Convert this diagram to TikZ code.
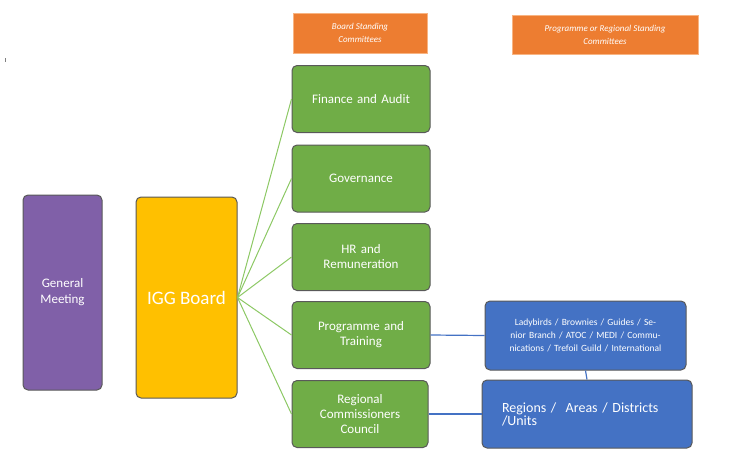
\documentclass[tikz,border=0pt]{standalone}
\usepackage{fontspec}
\setmainfont{Carlito}
\begin{document}
\begin{tikzpicture}[x=1pt,y=-1pt,
 box/.style={draw=gray!70!black,line width=1pt,rounded corners=5pt,text=white,align=center,inner sep=2pt},
 gbox/.style={box,fill=green!45!black!40!olive!0,fill={rgb,255:red,112;green,173;blue,71},minimum width=138pt,minimum height=67pt,text width=125pt,font=\fontsize{13}{15}\selectfont},
 bbox/.style={box,fill={rgb,255:red,68;green,114;blue,196}},
 obox/.style={fill={rgb,255:red,237;green,125;blue,49},draw={rgb,255:red,248;green,180;blue,130},text=white,align=center,font=\fontsize{9}{13}\selectfont\itshape},
 gl/.style={draw={rgb,255:red,140;green,200;blue,100},line width=1pt},
 bl/.style={draw={rgb,255:red,68;green,114;blue,196},line width=1.2pt}]
\useasboundingbox (0,0) rectangle (752,469);
\node[obox,minimum width=134pt,minimum height=40pt] (o1) at (360,33) {Board Standing\\Committees};
\node[obox,minimum width=186pt,minimum height=39pt] (o2) at (605,34.5) {Programme  or Regional Standing\\Committees};
\node[box,fill={rgb,255:red,128;green,96;blue,168},minimum width=79pt,minimum height=195pt,font=\fontsize{13}{16}\selectfont] (gm) at (62.5,292.5) {General\\Meeting};
\node[box,fill={rgb,255:red,255;green,192;blue,0},minimum width=101pt,minimum height=201pt,font=\fontsize{19}{22}\selectfont] (igg) at (186.5,297.5) {IGG Board};
\node[gbox] (fa) at (361,99) {Finance and Audit};
\node[gbox] (gov) at (361,178.5) {Governance};
\node[gbox] (hr) at (361,257) {HR and\\Remuneration};
\node[gbox] (pt) at (361,335) {Programme and\\Training};
\node[gbox,minimum width=136pt] (rc) at (360,414) {Regional\\Commissioners\\Council};
\node[bbox,minimum width=201pt,minimum height=69pt,text width=196pt,font=\fontsize{9.5}{13}\selectfont] (b1) at (585.5,335.5) {Ladybirds / Brownies / Guides / Senior Branch / ATOC / MEDI~/ Communications / Trefoil Guild / International};
\node[bbox,minimum width=210pt,minimum height=68pt,text width=170pt,align=left,font=\fontsize{14}{12}\selectfont] (b2) at (587,414) {\raisebox{8pt}{\parbox{170pt}{Regions /~ Areas / Districts\\/Units}}};
\foreach \n in {fa,gov,hr,pt,rc} \draw[gl] (igg.east) -- (\n.west);
\draw[bl] (pt.east) -- (b1.west);
\draw[bl] (rc.east) -- (b2.west);
\draw[bl] (b1.south) -- (b2.north);
\draw[gray,line width=1pt] (5,58) -- (5,62);
\end{tikzpicture}
\end{document}
